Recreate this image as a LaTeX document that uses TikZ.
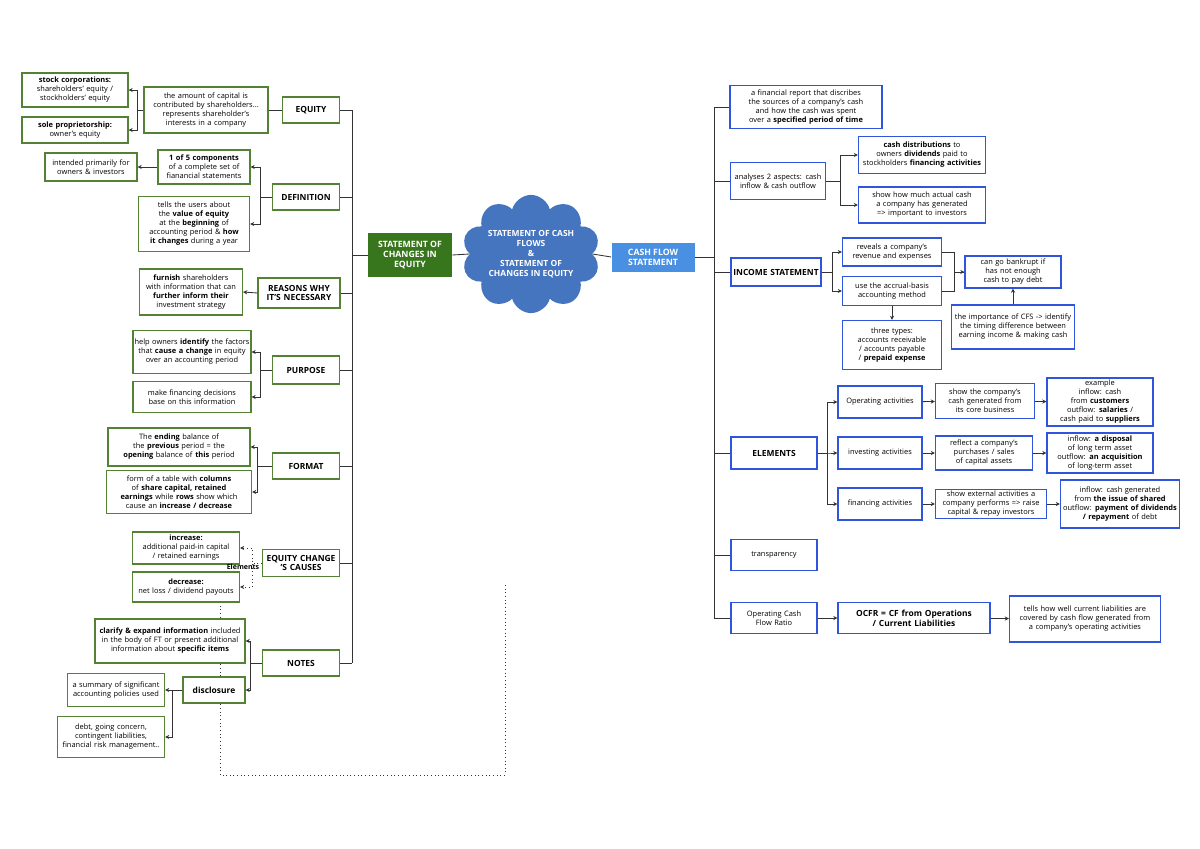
\documentclass[tikz,border=0pt]{standalone}
\usepackage{fontspec}
\setmainfont{Open Sans}
\usetikzlibrary{shapes.symbols,arrows.meta}
\definecolor{leafgreen}{RGB}{84,130,53}
\definecolor{darkgreen}{RGB}{56,118,29}
\definecolor{leafblue}{RGB}{47,85,220}
\definecolor{cloudblue}{RGB}{70,117,192}
\definecolor{headblue}{RGB}{74,144,226}
\hyphenpenalty=10000
\exhyphenpenalty=10000
\tikzset{
    box/.style 2 args={draw, line width=0.8pt, fill=white, align=center, inner sep=0.5pt,
        minimum width=#1*0.025cm, minimum height=#2*0.025cm, text width=#1*0.025cm-2pt,
        font=\fontsize{5.3}{6.4}\selectfont},
    head/.style={font=\fontsize{6}{7}\selectfont\bfseries},
    link/.style={draw=black!80, semithick, -{Stealth[length=3pt,width=3pt]}},
    line/.style={draw=black!80, semithick},
}
\begin{document}
\begin{tikzpicture}[x=0.025cm, y=-0.025cm]
    \useasboundingbox (0,0) rectangle (1200,848);
    % dotted frame behind the boxes
    \draw[line, dotted] (505,585) -- (505,775) -- (220,775) -- (220,600);
    % centre
    \node[cloud, cloud puffs=10, aspect=1.3, fill=cloudblue, minimum width=120*0.025cm, minimum height=96*0.025cm,
        text=white, align=center, font=\fontsize{6}{7}\selectfont\bfseries, inner sep=0pt] (centre) at (531,254)
        {STATEMENT OF CASH\\FLOWS\\\&\\STATEMENT OF\\CHANGES IN EQUITY};
    \node[fill=darkgreen, text=white, align=center, minimum width=84*0.025cm, minimum height=44*0.025cm,
        font=\fontsize{6.2}{7.2}\selectfont\bfseries, inner sep=1pt] (socie) at (410,255) {STATEMENT OF\\CHANGES IN\\EQUITY};
    \node[fill=headblue, text=white, align=center, minimum width=83*0.025cm, minimum height=29*0.025cm,
        font=\fontsize{6.2}{7.2}\selectfont\bfseries, inner sep=1pt] (cfs) at (653,257) {CASH FLOW\\STATEMENT};
    % equity side
    \begin{scope}
        \tikzstyle{every node}=[draw=leafgreen]
        \node[box={57}{26}, head] (equity) at (311,110) {EQUITY};
        \node[box={124}{46}] (amount) at (206,110) {the amount of capital is contributed by shareholders... represents shareholder's interests in a company};
        \node[box={106}{34}] (stock) at (75,90) {\textbf{stock corporations:}\\shareholders' equity / stockholders' equity};
        \node[box={106}{26}] (sole) at (75,130) {\textbf{sole proprietorship:}\\owner's equity};
        \node[box={67}{26}, head] (definition) at (306,197) {DEFINITION};
        \node[box={92}{34}] (component) at (204,167) {\textbf{1 of 5 components} of a complete set of fianancial statements};
        \node[box={92}{28}] (intended) at (91,167) {intended primarily for owners \& investors};
        \node[box={111}{55}] (tells) at (194,224) {tells the users about the \textbf{value of equity} at the \textbf{beginning} of accounting period \& \textbf{how it changes} during a year};
        \node[box={82}{30}, head] (reasons) at (299,293) {REASONS WHY\\IT'S NECESSARY};
        \node[box={103}{46}] (furnish) at (191,292) {\textbf{furnish} shareholders with information that can \textbf{further inform their} investment strategy};
        \node[box={67}{28}, head] (purpose) at (306,370) {PURPOSE};
        \node[box={118}{43}] (identify) at (192,352) {help owners \textbf{identify} the factors that \textbf{cause a change} in equity over an accounting period};
        \node[box={118}{31}] (decide) at (192,397) {make financing decisions base on this information};
        \node[box={67}{26}, head] (format) at (306,466) {FORMAT};
        \node[box={142}{38}] (ending) at (179,447) {The \textbf{ending} balance of the \textbf{previous} period = the \textbf{opening} balance of \textbf{this} period};
        \node[box={145}{43}] (table) at (179,492) {form of a table with \textbf{columns} of \textbf{share capital, retained earnings} while \textbf{rows} show which cause an \textbf{increase / decrease}};
        \node[box={77}{27}, head] (causes) at (301,563) {EQUITY CHANGE\\'S CAUSES};
        \node[box={107}{32}] (increase) at (186,548) {\textbf{increase:}\\additional paid-in capital / retained earnings};
        \node[box={107}{30}] (decrease) at (186,587) {\textbf{decrease:}\\net loss / dividend payouts};
        \node[box={77}{26}, head] (notes) at (301,663) {NOTES};
        \node[box={150}{44}] (clarify) at (170,641) {\textbf{clarify \& expand information} included in the body of FT or present additional information about \textbf{specific items}};
        \node[box={62}{26}, head] (disclosure) at (214,690) {disclosure};
        \node[box={97}{33}] (summary) at (116,690) {a summary of significant accounting policies used};
        \node[box={107}{41}] (debt) at (111,737) {debt, going concern, contingent liabilities, financial risk management..};
    \end{scope}
    \node[font=\fontsize{5}{6}\selectfont\bfseries, inner sep=0pt] (elements) at (243,567) {Elements};
    % cash flow side
    \begin{scope}
        \tikzstyle{every node}=[draw=leafblue]
        \node[box={152}{43}] (report) at (806,107) {a financial report that discribes the sources of a company's cash and how the cash was spent over a \textbf{specified period of time}};
        \node[box={95}{37}] (aspects) at (778,181) {analyses 2 aspects: cash inflow \& cash outflow};
        \node[box={127}{37}] (distribution) at (922,155) {\textbf{cash distributions} to owners \textbf{dividends} paid to stockholders \textbf{financing activities}};
        \node[box={127}{36}] (actual) at (922,205) {show how much actual cash a company has generated => important to investors};
        \node[box={90}{28}, head] (income) at (776,272) {INCOME STATEMENT};
        \node[box={99}{28}] (reveals) at (892,252) {reveals a company's revenue and expenses};
        \node[box={99}{29}] (accrual) at (892,291) {use the accrual-basis accounting method};
        \node[box={96}{32}] (bankrupt) at (1013,272) {can go bankrupt if has not enough cash to pay debt};
        \node[box={123}{44}] (importance) at (1013,327) {the importance of CFS -> identify the timing difference between earning income \& making cash};
        \node[box={99}{49}] (types) at (892,345) {three types: accounts receivable / accounts payable / \textbf{prepaid expense}};
        \node[box={86}{32}, head] (parts) at (774,453) {ELEMENTS};
        \node[box={84}{32}] (operating) at (880,402) {Operating activities};
        \node[box={84}{32}] (investing) at (880,453) {investing activities};
        \node[box={84}{32}] (financing) at (880,504) {financing activities};
        \node[box={99}{35}] (core) at (985,401) {show the company's cash generated from its core business};
        \node[box={97}{34}] (capital) at (984,453) {reflect a company's purchases / sales of capital assets};
        \node[box={111}{29}] (external) at (991,504) {show external activities a company performs => raise capital \& repay investors};
        \node[box={106}{48}] (example) at (1100,402) {example\\inflow: cash from \textbf{customers}\\outflow: \textbf{salaries} / cash paid to \textbf{suppliers}};
        \node[box={106}{40}] (disposal) at (1100,453) {inflow: \textbf{a disposal} of long term asset\\outflow: \textbf{an acquisition} of long-term asset};
        \node[box={119}{48}] (shares) at (1120,504) {inflow: cash generated from \textbf{the issue of shared}\\outflow: \textbf{payment of dividends / repayment} of debt};
        \node[box={86}{31}] (transparency) at (774,555) {transparency};
        \node[box={86}{31}] (ratio) at (774,618) {Operating Cash Flow Ratio};
        \node[box={152}{31}, head] (formula) at (914,618) {OCFR = CF from Operations / Current Liabilities};
        \node[box={151}{46}] (covered) at (1085,619) {tells how well current liabilities are covered by cash flow generated from a company's operating activities};
    \end{scope}
    % spines
    \draw[line] (352,110) -- (352,663);
    \draw[line] (714,108) -- (714,618);
    \draw[line] (352,255) -- (socie.west);
    \draw[line] (socie.east) -- (centre.west);
    \draw[line] (centre.east) -- (cfs.west);
    \draw[line] (cfs.east) -- (714,257);
    \foreach \n in {equity,definition,reasons,purpose,format,causes,notes}
        \draw[line] (\n.east) -- (352,0 |- \n.east);
    \foreach \n in {report,aspects,income,parts,transparency,ratio}
        \draw[line] (\n.west) -- (714,0 |- \n.west);
    % equity branches
    \draw[line] (equity.west) -- (amount.east);
    \draw[link] (amount.west) -- ++(-6,0) |- (stock.east);
    \draw[link] (amount.west) -- ++(-6,0) |- (sole.east);
    \draw[link] (definition.west) -- ++(-12,0) |- (component.east);
    \draw[link] (definition.west) -- ++(-12,0) |- (tells.east);
    \draw[link] (component.west) -- (intended.east);
    \draw[link] (reasons.west) -- (furnish.east);
    \draw[link] (purpose.west) -- ++(-12,0) |- (identify.east);
    \draw[link] (purpose.west) -- ++(-12,0) |- (decide.east);
    \draw[link] (format.west) -- ++(-15,0) |- (ending.east);
    \draw[link] (format.west) -- ++(-15,0) |- (table.east);
    \draw[link, dotted] (causes.west) -- ++(-10,0) |- (increase.east);
    \draw[link, dotted] (causes.west) -- ++(-10,0) |- (decrease.east);
    \draw[link] (notes.west) -- ++(-12,0) |- (clarify.east);
    \draw[link] (notes.west) -- ++(-12,0) |- (disclosure.east);
    \draw[link] (disclosure.west) -- ++(-10,0) |- (summary.east);
    \draw[link] (disclosure.west) -- ++(-10,0) |- (debt.east);
    % cash flow branches
    \draw[link] (aspects.east) -- ++(14,0) |- (distribution.west);
    \draw[link] (aspects.east) -- ++(14,0) |- (actual.west);
    \draw[link] (income.east) -- ++(11,0) |- (reveals.west);
    \draw[link] (income.east) -- ++(11,0) |- (accrual.west);
    \draw[line] (reveals.east) -- ++(12,0) |- (bankrupt.west);
    \draw[link] (accrual.east) -- ++(12,0) |- (bankrupt.west);
    \draw[link] (accrual.south) -- (types.north);
    \draw[link] (importance.north) -- (bankrupt.south);
    \foreach \n in {operating,investing,financing}
        \draw[link] (parts.east) -- ++(10,0) |- (\n.west);
    \path
    (operating) edge[link] (core)
    (core) edge[link] (example)
    (investing) edge[link] (capital)
    (capital) edge[link] (disposal)
    (financing) edge[link] (external)
    (external) edge[link] (shares)
    (ratio) edge[link] (formula)
    (formula) edge[link] (covered)
    ;
\end{tikzpicture}
\end{document}
